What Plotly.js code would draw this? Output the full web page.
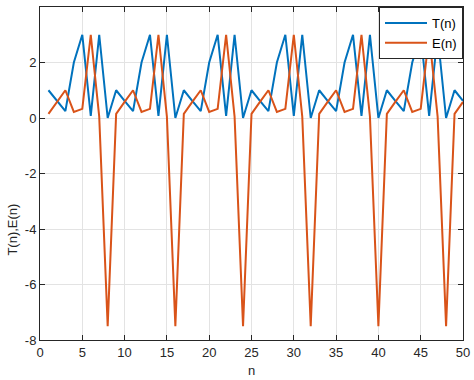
<!DOCTYPE html>
<html>
<head>
<meta charset="utf-8">
<script src="https://cdn.plot.ly/plotly-3.0.1.min.js"></script>
<style>html,body{margin:0;padding:0;background:#fff;}#plot{width:474px;height:380px;}</style>
</head>
<body>
<div id="plot"></div>
<script>
var n = [1,2,3,4,5,6,7,8,9,10,11,12,13,14,15,16,17,18,19,20,21,22,23,24,25,26,27,28,29,30,31,32,33,34,35,36,37,38,39,40,41,42,43,44,45,46,47,48,49,50];
var T = [1,0.62,0.25,2,3,0.08,3,0, 1,0.62,0.25,2,3,0.08,3,0, 1,0.62,0.25,2,3,0.08,3,0, 1,0.62,0.25,2,3,0.08,3,0, 1,0.62,0.25,2,3,0.08,3,0, 1,0.62,0.25,2,3,0.08,3,0, 1,0.62];
var E = [0.15,0.58,1,0.22,0.33,3,0.05,-7.5, 0.15,0.58,1,0.22,0.33,3,0.05,-7.5, 0.15,0.58,1,0.22,0.33,3,0.05,-7.5, 0.15,0.58,1,0.22,0.33,3,0.05,-7.5, 0.15,0.58,1,0.22,0.33,3,0.05,-7.5, 0.15,0.58,1,0.22,0.33,3,0.05,-7.5, 0.15,0.58];
var xTicks = [0,5,10,15,20,25,30,35,40,45,50];
var yTicks = [-8,-6,-4,-2,0,2,4];
var yTickText = ['-8','-6','-4','-2','0','2','4'];

var font = {family: 'Liberation Sans, Arial, sans-serif', size: 13, color: '#262626'};
var traces = [
  {x: n, y: T, name: 'T(n)', type: 'scatter', mode: 'lines', line: {color: '#0072BD', width: 2}},
  {x: n, y: E, name: 'E(n)', type: 'scatter', mode: 'lines', line: {color: '#D95319', width: 2}}
];
var axisCommon = {
  showline: true, linecolor: '#262626', linewidth: 1, mirror: 'ticks',
  ticks: 'inside', ticklen: 5, tickcolor: '#262626',
  showgrid: true, gridcolor: '#e3e3e3', gridwidth: 1, zeroline: false,
  tickfont: font
};
var layout = {
  width: 474, height: 380,
  margin: {l: 40, r: 11, t: 7, b: 40},
  paper_bgcolor: '#fff', plot_bgcolor: '#fff',
  font: font,
  xaxis: Object.assign({}, axisCommon, {range: [0, 50], tickvals: xTicks, title: {text: 'n', font: font, standoff: 7}}),
  yaxis: Object.assign({}, axisCommon, {range: [-8, 4], tickvals: yTicks, ticktext: yTickText}),
  showlegend: true,
  legend: {x: 1, y: 1, xanchor: 'right', yanchor: 'top', bgcolor: '#fff', bordercolor: '#262626', borderwidth: 1,
           itemwidth: 42, font: {family: 'Liberation Sans, Arial, sans-serif', size: 13, color: '#000'}, tracegroupgap: 0},
  annotations: [{text: 'T(n),E(n)', xref: 'paper', yref: 'paper', x: -0.065, y: 0.33, xanchor: 'center', yanchor: 'middle',
                 textangle: -90, showarrow: false, font: font}]
};
Plotly.newPlot('plot', traces, layout, {displayModeBar: false, staticPlot: true});
</script>
</body>
</html>
